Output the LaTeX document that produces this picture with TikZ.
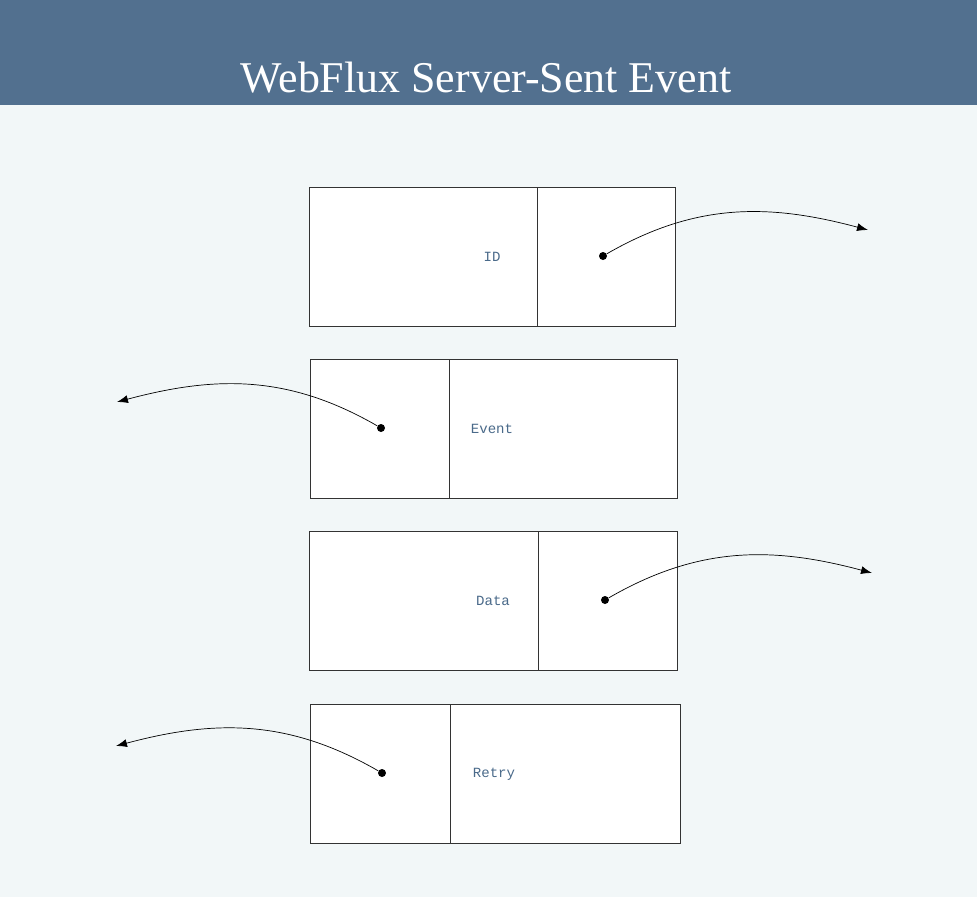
\documentclass[tikz,border=0pt]{standalone}
\usepackage{fontspec}
\setmainfont{Liberation Serif}
\setmonofont{Liberation Mono}
\usetikzlibrary{arrows.meta, positioning}

\definecolor{band}{HTML}{52708F}
\definecolor{paper}{HTML}{F2F7F8}
\definecolor{label}{HTML}{4A6A8A}

\begin{document}
\begin{tikzpicture}[
    x=0.02cm, y=-0.02cm,
    field/.style={draw=black!80, fill=white, line width=0.5pt},
    tag/.style={font=\ttfamily\fontsize{8}{9}\selectfont, text=label},
    link/.style={-{Latex[length=2.2mm,width=1.6mm]}, line width=0.4pt},
    dot/.style={circle, fill=black, inner sep=0pt, minimum size=1.6mm},
]
    \fill[paper] (0,0) rectangle (977,897);
    \useasboundingbox (0,0) rectangle (977,897);
    \fill[band] (0,0) rectangle (977,105);
    \node[text=white, font=\fontsize{25}{28}\selectfont] (title) at (486,78) {WebFlux Server-Sent Event};

    % ID
    \draw[field] (309,187) rectangle (675,326);
    \draw[field] (537,187) -- (537,326);
    \node[tag] (id) at (492,257) {ID};
    \node[dot] (idDot) at (603,256) {};
    \coordinate (idEnd) at (868,230);
    \draw[link] (idDot) to[out=30,in=165] (idEnd);

    % Event
    \draw[field] (310,359) rectangle (677,498);
    \draw[field] (449,359) -- (449,498);
    \node[tag] (event) at (492,429) {Event};
    \node[dot] (eventDot) at (381,428) {};
    \coordinate (eventEnd) at (117,402);
    \draw[link] (eventDot) to[out=150,in=15] (eventEnd);

    % Data
    \draw[field] (309,531) rectangle (677,670);
    \draw[field] (538,531) -- (538,670);
    \node[tag] (data) at (493,601) {Data};
    \node[dot] (dataDot) at (605,600) {};
    \coordinate (dataEnd) at (872,573);
    \draw[link] (dataDot) to[out=30,in=165] (dataEnd);

    % Retry
    \draw[field] (310,704) rectangle (680,843);
    \draw[field] (450,704) -- (450,843);
    \node[tag] (retry) at (494,774) {Retry};
    \node[dot] (retryDot) at (382,773) {};
    \coordinate (retryEnd) at (116,746);
    \draw[link] (retryDot) to[out=150,in=15] (retryEnd);
\end{tikzpicture}
\end{document}
